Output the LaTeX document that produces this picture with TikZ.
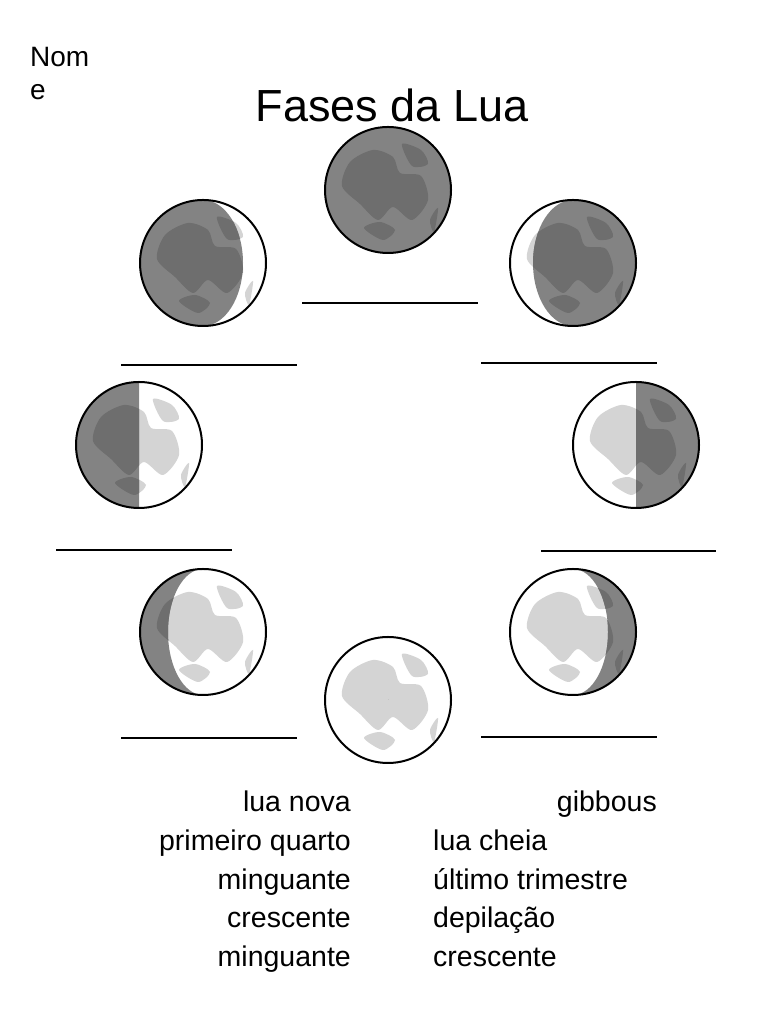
\documentclass[tikz,border=0pt]{standalone}
\usepackage{fontspec}
\setmainfont{Liberation Sans}
\definecolor{mdark}{HTML}{838383}
\definecolor{mdarkb}{HTML}{6E6E6E}
\definecolor{mlight}{HTML}{D4D4D4}
\newcommand{\moonblobs}{%
  \fill plot[smooth cycle] coordinates{(-38,28)(-15,40)(5,33)(12,17)(33,14)(40,-10)(24,-30)(5,-17)(-10,-30)(-28,-14)(-46,4)};
  \fill plot[smooth cycle] coordinates{(14,46)(33,40)(40,26)(24,24)};
  \fill plot[smooth cycle] coordinates{(-24,-38)(-5,-50)(7,-40)(-8,-32)};
  \fill plot[smooth cycle] coordinates{(42,-30)(50,-18)(46,-42)};}
\newcommand{\moon}[3]{%
  \begin{scope}[shift={(#1,#2)}]
   \fill[white] (0,0) circle[radius=63];
   \begin{scope}[mlight]\clip (0,0) circle[radius=63]; \moonblobs \end{scope}
   \fill[mdark] #3;
   \begin{scope}\clip #3; \begin{scope}[mdarkb]\moonblobs\end{scope}\end{scope}
   \draw[line width=2] (0,0) circle[radius=63];
  \end{scope}}
\begin{document}
\begin{tikzpicture}[x=1pt,y=1pt,ln/.style={line width=2.2}]
\useasboundingbox (0,0) rectangle (768,1024);
\fill[white] (0,0) rectangle (768,1024);
\node[anchor=base west,inner sep=0,font=\fontsize{28}{34}\selectfont] (nom) at (30,957) {Nom};
\node[anchor=base west,inner sep=0,font=\fontsize{28}{34}\selectfont] (e) at (30,924) {e};
\node[anchor=base,inner sep=0,font=\fontsize{45}{54}\selectfont] (title) at (392,902) {Fases da Lua};
\moon{388}{834}{(0,0) circle[radius=63]}
\moon{203}{761}{(0,63) arc[start angle=90,end angle=270,radius=63] arc[start angle=270,end angle=450,x radius=40,y radius=63] -- cycle}
\moon{573}{761}{(0,63) arc[start angle=90,end angle=-90,radius=63] arc[start angle=-90,end angle=-270,x radius=40,y radius=63] -- cycle}
\moon{139}{579}{(0,63) arc[start angle=90,end angle=270,radius=63] -- cycle}
\moon{636}{579}{(0,63) arc[start angle=90,end angle=-90,radius=63] -- cycle}
\moon{203}{392}{(0,63) arc[start angle=90,end angle=270,radius=63] arc[start angle=-90,end angle=-270,x radius=35,y radius=63] -- cycle}
\moon{573}{392}{(0,63) arc[start angle=90,end angle=-90,radius=63] arc[start angle=270,end angle=450,x radius=35,y radius=63] -- cycle}
\moon{388}{324}{(0,0) circle[radius=0]}
\coordinate (a1) at (302,721); \coordinate (a2) at (478,721);
\coordinate (b1) at (121,659); \coordinate (b2) at (297,659);
\coordinate (c1) at (481,661); \coordinate (c2) at (657,661);
\coordinate (d1) at (56,474); \coordinate (d2) at (232,474);
\coordinate (e1) at (541,473); \coordinate (e2) at (716,473);
\coordinate (f1) at (121,286); \coordinate (f2) at (297,286);
\coordinate (g1) at (481,287); \coordinate (g2) at (657,287);
\foreach \p in {a,b,c,d,e,f,g} \draw[ln] (\p1) -- (\p2);
\tikzset{wl/.style={font=\fontsize{28.5}{34}\selectfont,inner sep=0}}
\node[wl,anchor=base east] (l1) at (351,212) {lua nova};
\node[wl,anchor=base east] (l2) at (351,173) {primeiro quarto};
\node[wl,anchor=base east] (l3) at (351,134) {minguante};
\node[wl,anchor=base east] (l4) at (351,96) {crescente};
\node[wl,anchor=base east] (l5) at (351,57) {minguante};
\node[wl,anchor=base east] (r1) at (657,212) {gibbous};
\node[wl,anchor=base west] (r2) at (433,173) {lua cheia};
\node[wl,anchor=base west] (r3) at (433,134) {último trimestre};
\node[wl,anchor=base west] (r4) at (433,96) {depilação};
\node[wl,anchor=base west] (r5) at (433,57) {crescente};
\end{tikzpicture}
\end{document}
